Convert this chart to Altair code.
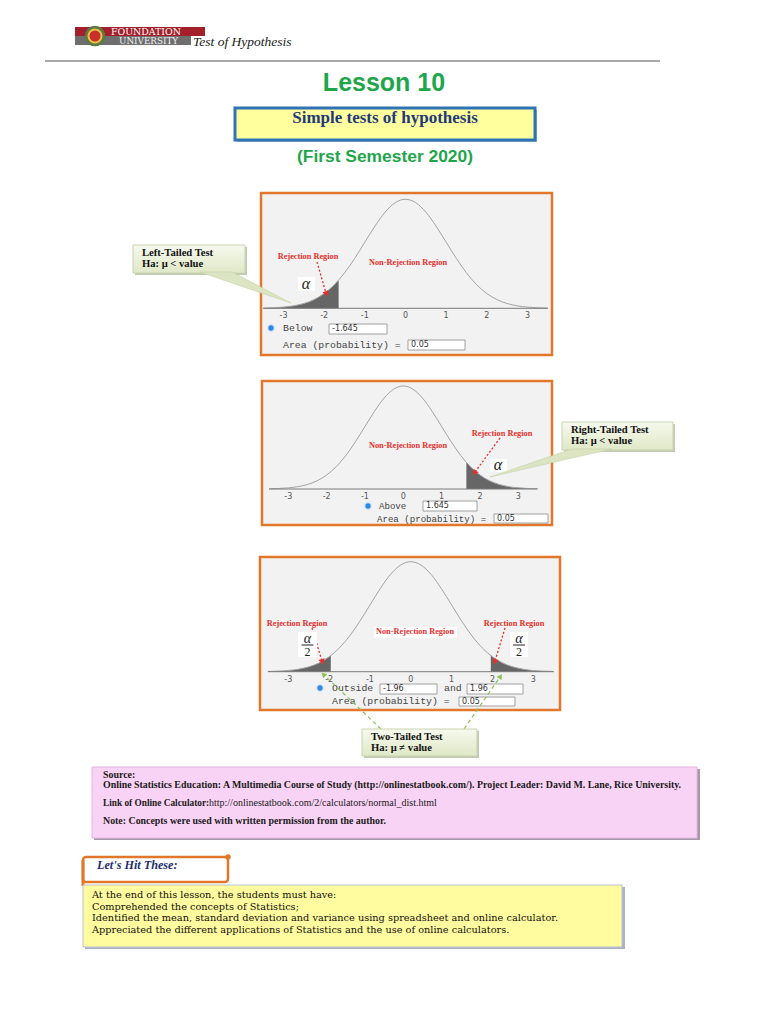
import altair as alt
import pandas as pd

# ---------------- data ----------------
z_grid = [-3.5, -3.25, -3.0, -2.75, -2.5, -2.25, -2.0, -1.75, -1.5, -1.25, -1.0, -0.75, -0.5, -0.25,
          0.0, 0.25, 0.5, 0.75, 1.0, 1.25, 1.5, 1.75, 2.0, 2.25, 2.5, 2.75, 3.0, 3.25, 3.5]
density = [0.0009, 0.0020, 0.0044, 0.0091, 0.0175, 0.0317, 0.0540, 0.0863, 0.1295, 0.1826, 0.2420,
           0.3011, 0.3521, 0.3867, 0.3989, 0.3867, 0.3521, 0.3011, 0.2420, 0.1826, 0.1295, 0.0863,
           0.0540, 0.0317, 0.0175, 0.0091, 0.0044, 0.0020, 0.0009]

left_tail_z = [-3.5, -3.25, -3.0, -2.75, -2.5, -2.25, -2.0, -1.75, -1.645]
left_tail_d = [0.0009, 0.0020, 0.0044, 0.0091, 0.0175, 0.0317, 0.0540, 0.0863, 0.1031]
right_tail_z = [1.645, 1.75, 2.0, 2.25, 2.5, 2.75, 3.0, 3.25, 3.5]
right_tail_d = [0.1031, 0.0863, 0.0540, 0.0317, 0.0175, 0.0091, 0.0044, 0.0020, 0.0009]
two_left_z = [-3.5, -3.25, -3.0, -2.75, -2.5, -2.25, -2.0, -1.96]
two_left_d = [0.0009, 0.0020, 0.0044, 0.0091, 0.0175, 0.0317, 0.0540, 0.0584]
two_right_z = [1.96, 2.0, 2.25, 2.5, 2.75, 3.0, 3.25, 3.5]
two_right_d = [0.0584, 0.0540, 0.0317, 0.0175, 0.0091, 0.0044, 0.0020, 0.0009]

tick_values = [-3, -2, -1, 0, 1, 2, 3]
tick_labels = ["-3", "-2", "-1", "0", "1", "2", "3"]

below_value = "-1.645"
above_value = "1.645"
outside_low = "-1.96"
outside_high = "1.96"
area_value = "0.05"

source_lines = [
    "Source:",
    "Online Statistics Education: A Multimedia Course of Study (http://onlinestatbook.com/). Project Leader: David M. Lane, Rice University.",
    "Note: Concepts were used with written permission from the author.",
]
link_label = "Link of Online Calculator:"
link_url = "http://onlinestatbook.com/2/calculators/normal_dist.html"
goals = [
    "At the end of this lesson, the students must have:",
    "Comprehended the concepts of Statistics;",
    "Identified the mean, standard deviation and variance using spreadsheet and online calculator.",
    "Appreciated the different applications of Statistics and the use of online calculators.",
]

# ---------------- helpers ----------------
layers = []
PXS = alt.Scale(domain=[8, 760], range=[0, 752], nice=False, zero=False)
PYS = alt.Scale(domain=[8, 1016], range=[0, 1008], nice=False, zero=False)


def px(f):
    return alt.X(f, scale=PXS, axis=None)


def py(f):
    return alt.Y(f, scale=PYS, axis=None)


def rect(x0, y0, x1, y1, **mk):
    df = pd.DataFrame({"x": [x0], "x2": [x1], "y": [y0], "y2": [y1]})
    layers.append(alt.Chart(df).mark_rect(**mk).encode(
        x=px("x:Q"), x2="x2:Q", y=py("y:Q"), y2="y2:Q"))


def text(items, **mk):
    df = pd.DataFrame(items, columns=["x", "y", "t"])
    mk.setdefault("baseline", "middle")
    layers.append(alt.Chart(df).mark_text(**mk).encode(
        x=px("x:Q"), y=py("y:Q"), text="t:N"))


def line(pts, **mk):
    df = pd.DataFrame({"x": [p[0] for p in pts], "y": [p[1] for p in pts],
                       "i": list(range(len(pts)))})
    layers.append(alt.Chart(df).mark_line(**mk).encode(
        x=px("x:Q"), y=py("y:Q"), order="i:Q"))


def dot(x, y, **mk):
    df = pd.DataFrame({"x": [x], "y": [y]})
    layers.append(alt.Chart(df).mark_point(**mk).encode(x=px("x:Q"), y=py("y:Q")))


def wedge(xs, ys, y2s, **mk):
    df = pd.DataFrame({"x": xs, "y": ys, "y2": y2s})
    layers.append(alt.Chart(df).mark_area(**mk).encode(x=px("x:Q"), y=py("y:Q"), y2="y2:Q"))


def panel(xr, yr, shades):
    XS = alt.Scale(domain=[-3.5, 3.5], range=xr, nice=False, zero=False)
    YS = alt.Scale(domain=[0, 0.4], range=yr, nice=False, zero=False)

    def zx(f):
        return alt.X(f, scale=XS, axis=None)

    def zy(f):
        return alt.Y(f, scale=YS, axis=None)

    for zs, ds in shades:
        layers.append(alt.Chart(pd.DataFrame({"z": zs, "d": ds})).mark_area(
            color="#666666", interpolate="monotone").encode(
            x=zx("z:Q"), y=zy("d:Q"), y2=alt.datum(0)))
    layers.append(alt.Chart(pd.DataFrame({"z": z_grid, "d": density})).mark_line(
        color="#a3a3a3", strokeWidth=1, interpolate="monotone").encode(
        x=zx("z:Q"), y=zy("d:Q")))
    layers.append(alt.Chart(pd.DataFrame({"a": [z_grid[0]], "b": [z_grid[-1]]})).mark_rule(
        color="#7a7a7a", strokeWidth=1).encode(
        x=zx("a:Q"), x2="b:Q", y=alt.YDatum(datum=0, scale=YS, axis=None)))
    layers.append(alt.Chart(pd.DataFrame({"v": tick_values, "s": tick_labels})).mark_text(
        dy=8, fontSize=8, font="DejaVu Sans", color="#555555").encode(
        x=zx("v:Q"), y=alt.YDatum(datum=0, scale=YS, axis=None), text="s:N"))


ORANGE = "#e2772b"
RED = "#e5302c"
SERIF = "Liberation Serif"
MONO = "Liberation Mono"
SANS = "Liberation Sans"
CALLOUT_FILL = alt.Gradient(gradient="linear", x1=0, x2=0, y1=0, y2=1,
                            stops=[alt.GradientStop(color="#f6f9ee", offset=0),
                                   alt.GradientStop(color="#dfe8c7", offset=1)])


def red_arrow(p0, p1, ang):
    line([p0, p1], color=RED, strokeWidth=1.3, strokeDash=[2, 2])
    dot(p1[0], p1[1], shape="triangle", filled=True, size=40, angle=ang, color=RED, opacity=1)


def radio(x, y):
    dot(x, y, shape="circle", filled=True, size=70, color="#d7e6f7", opacity=1)
    dot(x, y, shape="circle", filled=True, size=28, color="#2f87e0", opacity=1)


def input_box(x0, y0, x1, y1, val):
    rect(x0, y0, x1, y1, fill="white", stroke="#8c8c8c", strokeWidth=0.8)
    text([(x0 + 3, (y0 + y1) / 2, val)], align="left", fontSize=8, font="DejaVu Sans", color="#333333")


def callout(x0, y0, x1, y1, l1, l2):
    rect(x0 + 2, y0 + 2, x1 + 2, y1 + 2, fill="#c4cab6")
    rect(x0, y0, x1, y1, fill=CALLOUT_FILL, stroke="#c9d4ae", strokeWidth=1)
    text([(x0 + 9, y0 + 8, l1), (x0 + 9, y0 + 19, l2)], align="left", fontSize=10.6,
         font=SERIF, fontWeight="bold", color="#111111")


def alpha_box(x0, y0, x1, y1, cx, cy):
    rect(x0, y0, x1, y1, fill="white")
    text([(cx, cy, "α")], fontSize=16, font=SERIF, fontStyle="italic", color="#222222")


def half_alpha(x0, y0, x1, y1):
    rect(x0, y0, x1, y1, fill="white")
    cx = (x0 + x1) / 2
    text([(cx, y0 + 7, "α")], fontSize=14, font=SERIF, fontStyle="italic", color="#222222")
    line([(cx - 6, y0 + 13), (cx + 6, y0 + 13)], color="#222222", strokeWidth=1)
    text([(cx, y0 + 20, "2")], fontSize=12, font=SERIF, color="#222222")


# ---------------- header ----------------
text([(193, 42, "Test of Hypothesis")], align="left", fontSize=13.5, font=SERIF,
     fontStyle="italic", color="#222222")
rect(75, 27, 205, 36, fill="#a3202a")
rect(75, 36, 191, 45, fill="#6e6e6e")
dot(95, 36, shape="circle", filled=True, size=420, color="#5d7a45", opacity=1)
dot(95, 36, shape="circle", filled=True, size=170, color="#c9302c", stroke="#f0c040",
    strokeWidth=2, opacity=1)
text([(111, 31.5, "FOUNDATION")], align="left", fontSize=9.4, font="DejaVu Serif", color="white")
text([(119, 41, "UNIVERSITY")], align="left", fontSize=8.8, font="DejaVu Serif", color="#f2f2f2")
line([(45, 61), (660, 61)], color="#555555", strokeWidth=1)

# ---------------- title ----------------
text([(384, 83, "Lesson 10")], fontSize=25, font=SANS, fontWeight="bold", color="#1ea64b")
rect(237, 110, 537, 142, fill="#9fb3c8")
rect(235, 108, 535, 140, fill="#ffff9e", stroke="#2e74b5", strokeWidth=3)
text([(385, 118, "Simple tests of hypothesis")], fontSize=17, font=SERIF, fontWeight="bold",
     color="#1f3a78")
text([(385, 157, "(First Semester 2020)")], fontSize=17.4, font=SANS, fontWeight="bold",
     color="#1ea64b")

# ---------------- panel 1 : left-tailed ----------------
rect(261, 193, 552, 355, fill="#f2f2f2", stroke=ORANGE, strokeWidth=2.5)
panel([255.2, 539.8], [300.3, 191.0], [(left_tail_z, left_tail_d)])
text([(308, 257, "Rejection Region"), (408, 263, "Non-Rejection Region")], fontSize=8.3,
     font=SERIF, fontWeight="bold", color=RED)
red_arrow((317, 262), (326, 293), 163)
alpha_box(298, 277, 315, 291, 306, 284)
radio(271, 328)
text([(283, 328, "Below"), (283, 345, "Area (probability) =")], align="left", fontSize=9.8,
     font=MONO, color="#444444")
input_box(329, 324, 387, 334, below_value)
input_box(408, 340, 465, 350, area_value)
callout(133, 245, 245, 273, "Left-Tailed Test", "Ha: μ < value")
wedge([200, 232, 291], [272, 272, 303], [272, 283, 303], fill="#dce5c3", stroke="#c6d1a6",
      strokeWidth=0.6)

# ---------------- panel 2 : right-tailed ----------------
rect(262, 381, 552, 525, fill="#f2f2f2", stroke=ORANGE, strokeWidth=2.5)
panel([261.1, 529.5], [481.0, 377.7], [(right_tail_z, right_tail_d)])
text([(502, 434, "Rejection Region"), (408, 446, "Non-Rejection Region")], fontSize=8.3,
     font=SERIF, fontWeight="bold", color=RED)
red_arrow((500, 438), (475, 472), 216)
alpha_box(490, 459, 507, 472, 498, 465)
radio(368, 506)
text([(379, 506, "Above"), (377, 519, "Area (probability) =")], align="left", fontSize=9.1,
     font=MONO, color="#444444")
input_box(423, 501, 477, 511, above_value)
input_box(494, 514, 548, 523, area_value)
callout(562, 422, 673, 450, "Right-Tailed Test", "Ha: μ < value")
wedge([490, 572, 612], [477, 449, 449], [477, 458, 449], fill="#dce5c3", stroke="#c6d1a6",
      strokeWidth=0.6)

# ---------------- panel 3 : two-tailed ----------------
rect(260, 557, 560, 710, fill="#f2f2f2", stroke=ORANGE, strokeWidth=2.5)
panel([259.9, 545.7], [663.7, 553.4], [(two_left_z, two_left_d), (two_right_z, two_right_d)])
rect(374, 627, 457, 638, fill="white")
text([(297, 624, "Rejection Region"), (415, 632, "Non-Rejection Region"),
      (514, 624, "Rejection Region")], fontSize=8.3, font=SERIF, fontWeight="bold", color=RED)
red_arrow((312, 628), (322, 661), 164)
red_arrow((505, 628), (495, 661), 197)
half_alpha(298, 632, 317, 657)
half_alpha(510, 632, 528, 657)
radio(320, 688)
text([(332, 688, "Outside"), (444, 688, "and"), (332, 701, "Area (probability) =")],
     align="left", fontSize=9.8, font=MONO, color="#444444")
input_box(380, 684, 437, 694, outside_low)
input_box(467, 684, 523, 694, outside_high)
input_box(459, 697, 515, 706, area_value)
line([(381, 729), (324, 675)], color="#8cc152", strokeWidth=1.2, strokeDash=[4, 3])
line([(464, 729), (500, 677)], color="#8cc152", strokeWidth=1.2, strokeDash=[4, 3])
dot(324, 675, shape="triangle", filled=True, size=35, angle=313, color="#8cc152", opacity=1)
dot(500, 677, shape="triangle", filled=True, size=35, angle=34, color="#8cc152", opacity=1)
callout(362, 729, 477, 756, "Two-Tailed Test", "Ha: μ ≠ value")

# ---------------- source box ----------------
rect(94, 769, 700, 840, fill="#a898aa")
rect(92, 767, 697, 838, fill="#f9d3f5", stroke="#e3b6e0", strokeWidth=1)
text([(103, 775, source_lines[0]), (103, 785, source_lines[1]), (103, 821, source_lines[2])],
     align="left", fontSize=9.9, font=SERIF, fontWeight="bold", color="#1a1a1a")
text([(103, 803, link_label)], align="left", fontSize=9.3, font=SERIF, fontWeight="bold",
     color="#1a1a1a")
text([(209, 803, link_url)], align="left", fontSize=10, font=SERIF, color="#1a1a1a")

# ---------------- objectives ----------------
rect(83, 857, 228, 882, fill="white", stroke=ORANGE, strokeWidth=2.5, cornerRadius=3)
line([(83, 860), (83, 886)], color=ORANGE, strokeWidth=3)
dot(228, 857, shape="circle", filled=True, size=30, color=ORANGE, opacity=1)
text([(97, 865, "Let's Hit These:")], align="left", fontSize=12.2, font=SERIF,
     fontWeight="bold", fontStyle="italic", color="#1f2f6e")
rect(85, 887, 625, 949, fill="#a9b3c4")
rect(83, 885, 622, 947, fill="#fffb9e", stroke="#b9c4d4", strokeWidth=1)
text([(92, 895, goals[0]), (92, 906.7, goals[1]), (92, 918.4, goals[2]), (92, 930.1, goals[3])],
     align="left", fontSize=9.75, font="DejaVu Serif", color="#111111")

chart = alt.layer(*layers).resolve_scale(x="independent", y="independent").properties(
    width=752, height=1008, padding=0, autosize=alt.AutoSizeParams(type="none")
).configure_view(stroke=None)

chart.save("out.html", embed_options={"renderer": "svg", "actions": False})
